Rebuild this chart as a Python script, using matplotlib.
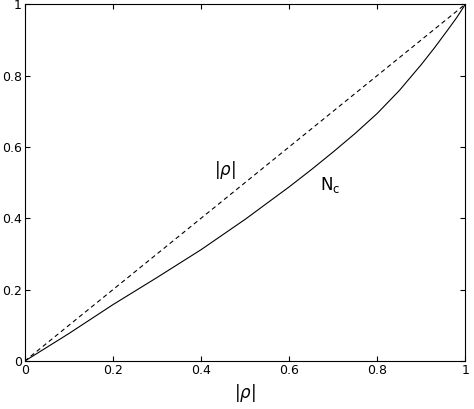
import matplotlib
matplotlib.use('Agg')
import matplotlib.pyplot as plt

rho = [0.0, 0.1, 0.2, 0.3, 0.4, 0.5, 0.6, 0.65, 0.7, 0.75, 0.8, 0.85, 0.9, 0.93, 0.96, 0.98, 1.0]
nc = [0.0, 0.077, 0.158, 0.234, 0.312, 0.397, 0.488, 0.536, 0.586, 0.638, 0.694, 0.758, 0.831, 0.878, 0.928, 0.962, 1.0]
diag = [0.0, 1.0]
ticks = [0, 0.2, 0.4, 0.6, 0.8, 1]
tick_labels = ['0', '0.2', '0.4', '0.6', '0.8', '1']

def main():
    fig = plt.figure(figsize=(4.74, 4.09), dpi=100)
    ax = fig.add_axes([0.052, 0.117, 0.93, 0.873])
    ax.plot(rho, nc, color='black', lw=0.8)
    ax.plot(diag, diag, color='black', lw=0.8, dashes=(4, 3))
    ax.set_xlim(0, 1)
    ax.set_ylim(0, 1)
    ax.set_xticks(ticks)
    ax.set_xticklabels(tick_labels)
    ax.set_yticks(ticks)
    ax.set_yticklabels(tick_labels)
    ax.tick_params(direction='in', labelsize=9, right=True, top=True, pad=2)
    ax.text(0.43, 0.52, r'$|\rho|$', fontsize=12, family='serif')
    ax.text(0.67, 0.48, r'$\mathrm{N_c}$', fontsize=12)
    ax.set_xlabel(r'$|\rho|$', fontsize=12)
    fig.savefig('out.png', dpi=100)

if __name__ == '__main__':
    main()
